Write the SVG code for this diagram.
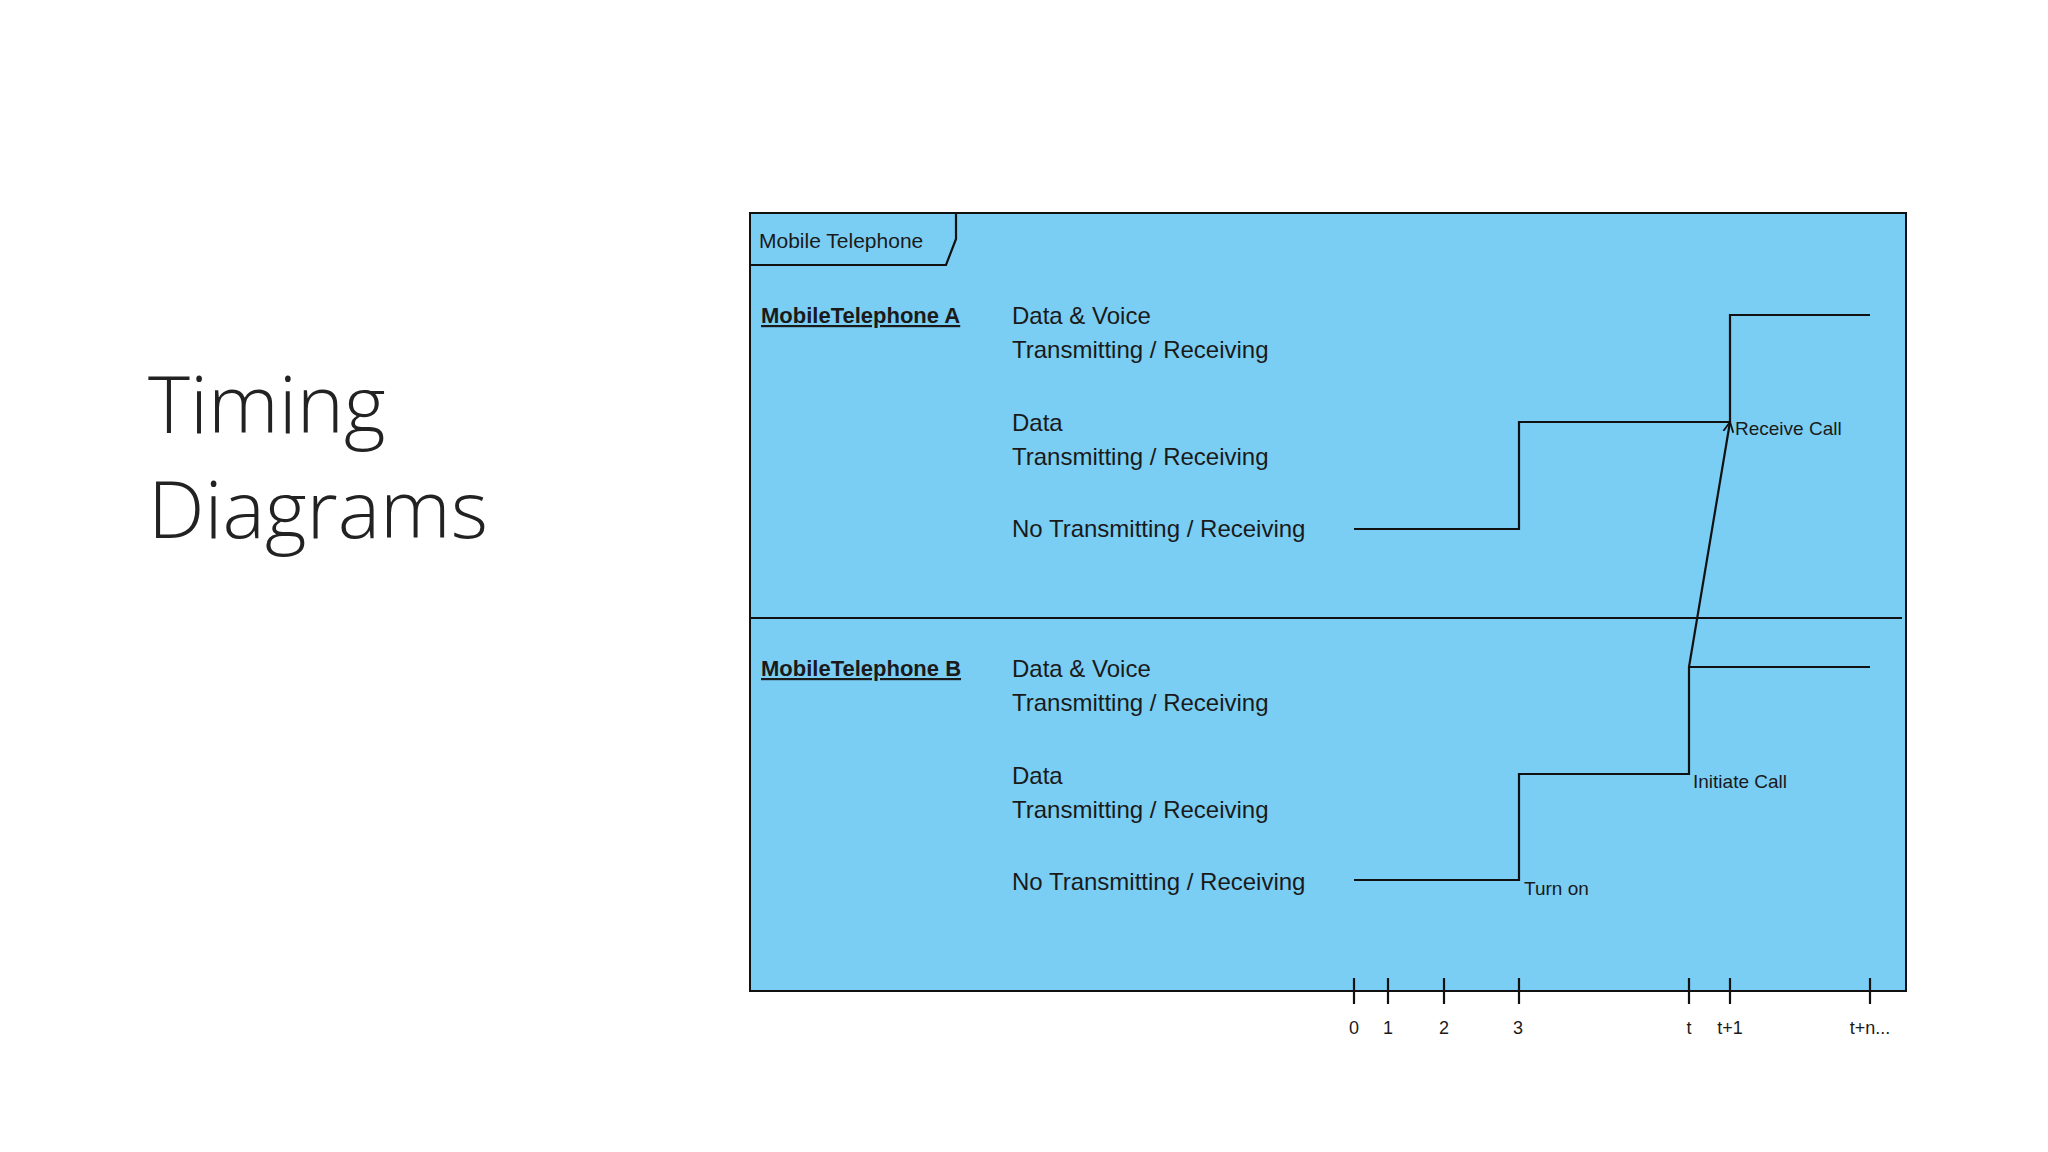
<svg xmlns="http://www.w3.org/2000/svg" width="2048" height="1152" viewBox="0 0 2048 1152">
<style>
.t{font-family:"Liberation Sans",Arial,sans-serif;fill:#1a1a1a}
.lbl{font-size:24px}
.ln{fill:none;stroke:#111;stroke-width:2.2}
.sm{font-size:19px}
.hd{font-size:22px;font-weight:bold;text-decoration:underline}
.tk{font-size:18px;text-anchor:middle}
</style>
<defs><marker id="ah" markerWidth="12" markerHeight="12" refX="10" refY="6" orient="auto" markerUnits="userSpaceOnUse"><path d="M0,1 L10,6 L0,11" fill="none" stroke="#111" stroke-width="1.8"/></marker></defs>
<rect width="2048" height="1152" fill="#fff"/>
<g id="title"><text x="148" y="433" font-family="'Open Sans','Noto Sans',sans-serif" font-weight="300" font-size="80" fill="#222">Timing</text><text x="148" y="538" font-family="'Open Sans','Noto Sans',sans-serif" font-weight="300" font-size="80" fill="#222">Diagrams</text></g>
<g id="frame"><rect x="750" y="213" width="1156" height="778" fill="#7acef4" stroke="#111" stroke-width="2"/>
<path class="ln" d="M750,265 H946 L956,239 V213"/>
<text class="t" x="759" y="248" font-size="21">Mobile Telephone</text>
<line class="ln" x1="750" y1="618" x2="1902" y2="618"/></g>
<g id="lifelineA"><text class="t hd" x="761" y="323">MobileTelephone A</text>
<text class="t lbl" x="1012" y="324">Data &amp; Voice</text><text class="t lbl" x="1012" y="358">Transmitting / Receiving</text>
<text class="t lbl" x="1012" y="431">Data</text><text class="t lbl" x="1012" y="465">Transmitting / Receiving</text>
<text class="t lbl" x="1012" y="537">No Transmitting / Receiving</text>
<text class="t sm" x="1735" y="435">Receive Call</text></g>
<g id="lifelineB"><text class="t hd" x="761" y="676">MobileTelephone B</text>
<text class="t lbl" x="1012" y="677">Data &amp; Voice</text><text class="t lbl" x="1012" y="711">Transmitting / Receiving</text>
<text class="t lbl" x="1012" y="784">Data</text><text class="t lbl" x="1012" y="818">Transmitting / Receiving</text>
<text class="t lbl" x="1012" y="890">No Transmitting / Receiving</text>
<text class="t sm" x="1693" y="788">Initiate Call</text>
<text class="t sm" x="1524" y="895">Turn on</text></g>
<g id="connectors">
<path class="ln" d="M1354,529 H1519 V422 H1730 V315 H1870"/>
<path class="ln" d="M1354,880 H1519 V774 H1689 V667 H1870"/>
<line class="ln" x1="1689" y1="667" x2="1730" y2="422" marker-end="url(#ah)"/>
<path class="ln" d="M1354,978V1004M1388,978V1004M1444,978V1004M1519,978V1004M1689,978V1004M1730,978V1004M1870,978V1004"/>
</g>
<g id="axis"><text class="t tk" x="1354" y="1034">0</text><text class="t tk" x="1388" y="1034">1</text><text class="t tk" x="1444" y="1034">2</text><text class="t tk" x="1518" y="1034">3</text><text class="t tk" x="1689" y="1034">t</text><text class="t tk" x="1730" y="1034">t+1</text><text class="t tk" x="1870" y="1034">t+n...</text></g>
</svg>
